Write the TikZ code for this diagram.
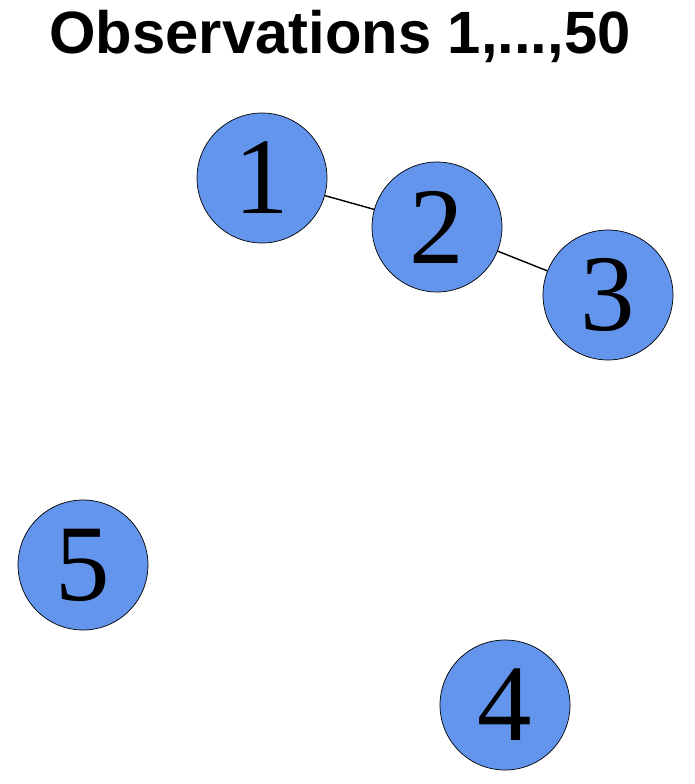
\documentclass[tikz,border=0pt]{standalone}
\usepackage{fontspec}
\setmainfont{Liberation Serif}
\newfontfamily\titlefont{Liberation Sans}
\definecolor{obsblue}{RGB}{100,149,237}
\tikzset{
  obs/.style={circle, draw=black, fill=obsblue, minimum size=2.6cm, inner sep=0pt,
    font=\fontsize{62}{62}\selectfont}
}

\begin{document}
\begin{tikzpicture}[x=0.02cm,y=-0.02cm]
                \useasboundingbox (0,0) rectangle (694,784);

                % Title
                \node (title) at (340,36) {\titlefont\bfseries\fontsize{34}{34}\selectfont Observations 1,...,50};

                % Observations
                \node[obs] (o1) at (262,178) {1};
                \node[obs] (o2) at (437,227) {2};
                \node[obs] (o3) at (608,295) {3};
                \node[obs] (o4) at (505,705) {4};
                \node[obs] (o5) at (83,565) {5};

                % Links
                \draw[thick] (o1) -- (o2);
                \draw[thick] (o2) -- (o3);
\end{tikzpicture}
\end{document}
